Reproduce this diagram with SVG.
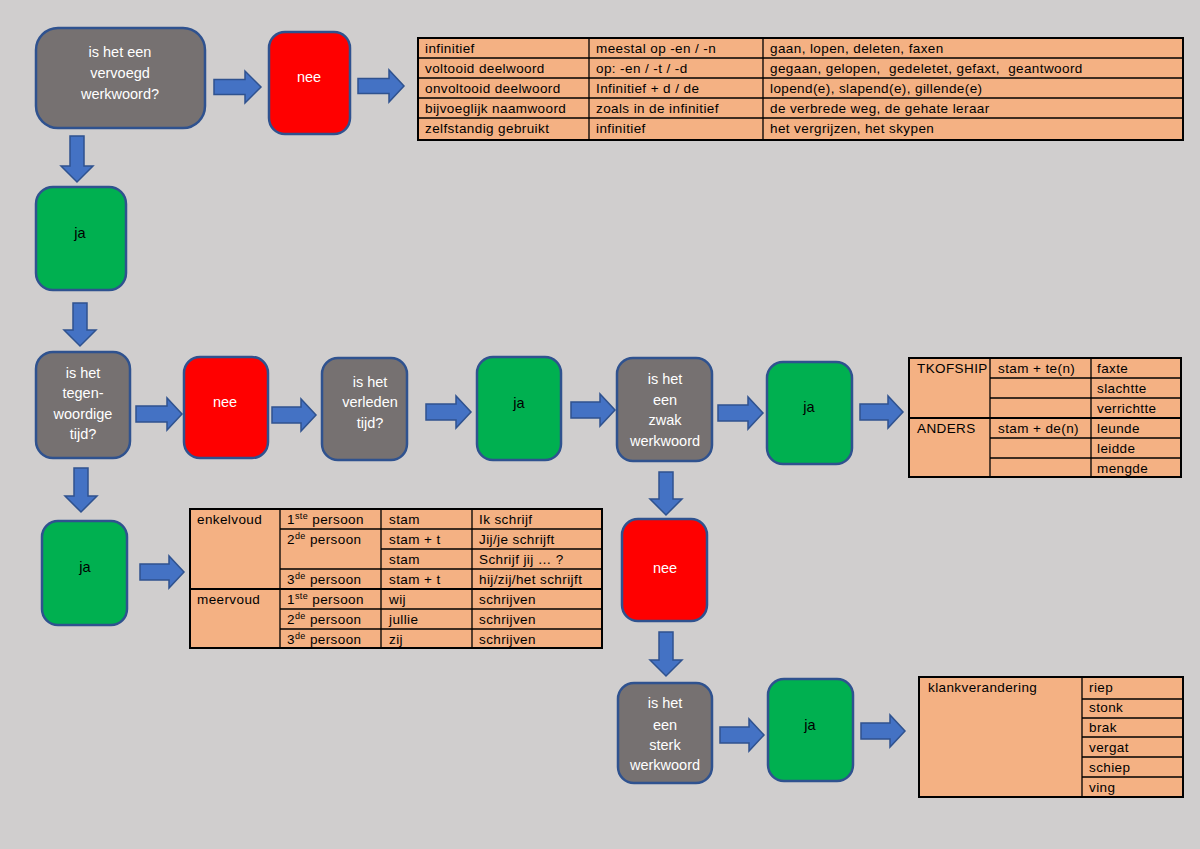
<svg xmlns="http://www.w3.org/2000/svg" width="1200" height="849" viewBox="0 0 1200 849">
<style>
.bg{fill:#D0CECE}
.node{stroke:#2F528F;stroke-width:2.5}
.gray{fill:#767171}
.red{fill:#FF0000}
.green{fill:#00B050}
.nt{font-family:"Liberation Sans",Arial,sans-serif;font-size:14.5px;text-anchor:middle;fill:#FFFFFF}
.nj{font-family:"Liberation Sans",Arial,sans-serif;font-size:14.5px;text-anchor:middle;fill:#000000}
.arr{fill:#4472C4;stroke:#2F528F;stroke-width:1.5}
.tb{fill:#F4B183;stroke:#000;stroke-width:2}
.ln{stroke:#000;stroke-width:1.3;fill:none}
.thk{stroke:#000;stroke-width:2;fill:none}
.tt{font-family:"Liberation Sans",Arial,sans-serif;font-size:13.5px;letter-spacing:0.4px;fill:#000;white-space:pre}
.sup{font-size:9px}
</style>
<rect class="bg" x="0" y="0" width="1200" height="849"/>

<g id="connectors">
<path class="arr" d="M214,79.5 H245 V71 L261,87 L245,103 V94.5 H214 Z"/>
<path class="arr" d="M358,78.5 H389 V70 L404,86 L389,102 V93.5 H358 Z"/>
<path class="arr" d="M70,136 H84 V166 H93 L77,182 L61,166 H70 Z"/>
<path class="arr" d="M73,303 H87 V330 H96 L80,346 L64,330 H73 Z"/>
<path class="arr" d="M74,468 H88 V496 H97 L81,512 L65,496 H74 Z"/>
<path class="arr" d="M659,472 H673 V499 H682 L666,515 L650,499 H659 Z"/>
<path class="arr" d="M659,632 H673 V660 H682 L666,676 L650,660 H659 Z"/>
<path class="arr" d="M136,406 H167 V398 L182,414 L167,430 V422 H136 Z"/>
<path class="arr" d="M272,407 H301 V399 L316,415 L301,431 V423 H272 Z"/>
<path class="arr" d="M426,404 H456 V396 L471,412 L456,428 V420 H426 Z"/>
<path class="arr" d="M571,402 H600 V394 L615,410 L600,426 V418 H571 Z"/>
<path class="arr" d="M718,405 H748 V397 L763,413 L748,429 V421 H718 Z"/>
<path class="arr" d="M860,404 H888 V396 L903,412 L888,428 V420 H860 Z"/>
<path class="arr" d="M140,564 H169 V556 L184,572 L169,588 V580 H140 Z"/>
<path class="arr" d="M720,727 H749 V719 L764,735 L749,751 V743 H720 Z"/>
<path class="arr" d="M861,723 H890 V715 L905,731 L890,747 V739 H861 Z"/>
</g>

<g id="n1">
<rect class="node gray" x="36" y="28" width="169" height="100" rx="22"/>
<text class="nt" x="120" y="57">is het een</text>
<text class="nt" x="120" y="78">vervoegd</text>
<text class="nt" x="120" y="99">werkwoord?</text>
</g>
<g id="n2">
<rect class="node red" x="269" y="32" width="81" height="102" rx="16"/>
<text class="nt" x="309" y="82">nee</text>
</g>
<g id="n3">
<rect class="node green" x="36" y="187" width="90" height="103" rx="17"/>
<text class="nj" x="80" y="238">ja</text>
</g>
<g id="n4">
<rect class="node gray" x="36" y="352" width="94" height="106" rx="17"/>
<text class="nt" x="83" y="378">is het</text>
<text class="nt" x="83" y="398">tegen-</text>
<text class="nt" x="83" y="419">woordige</text>
<text class="nt" x="83" y="439">tijd?</text>
</g>
<g id="n5">
<rect class="node red" x="184" y="357" width="84" height="101" rx="16"/>
<text class="nt" x="225" y="407">nee</text>
</g>
<g id="n6">
<rect class="node gray" x="322" y="358" width="85" height="102" rx="16"/>
<text class="nt" x="370" y="387">is het</text>
<text class="nt" x="370" y="407">verleden</text>
<text class="nt" x="370" y="428">tijd?</text>
</g>
<g id="n7">
<rect class="node green" x="477" y="357" width="84" height="103" rx="16"/>
<text class="nj" x="519" y="408">ja</text>
</g>
<g id="n8">
<rect class="node gray" x="617" y="358" width="95" height="103" rx="16"/>
<text class="nt" x="665" y="384">is het</text>
<text class="nt" x="665" y="405">een</text>
<text class="nt" x="665" y="425">zwak</text>
<text class="nt" x="665" y="446">werkwoord</text>
</g>
<g id="n9">
<rect class="node green" x="767" y="362" width="85" height="102" rx="16"/>
<text class="nj" x="809" y="412">ja</text>
</g>
<g id="n10">
<rect class="node green" x="42" y="521" width="85" height="104" rx="16"/>
<text class="nj" x="85" y="572">ja</text>
</g>
<g id="n11">
<rect class="node red" x="622" y="519" width="85" height="102" rx="16"/>
<text class="nt" x="665" y="573">nee</text>
</g>
<g id="n12">
<rect class="node gray" x="618" y="683" width="94" height="100" rx="16"/>
<text class="nt" x="665" y="708">is het</text>
<text class="nt" x="665" y="730">een</text>
<text class="nt" x="665" y="750">sterk</text>
<text class="nt" x="665" y="770">werkwoord</text>
</g>
<g id="n13">
<rect class="node green" x="768" y="679" width="85" height="102" rx="16"/>
<text class="nj" x="810" y="730">ja</text>
</g>

<g id="table-infinitief">
<rect class="tb" x="418" y="38" width="765" height="102"/>
<path class="ln" d="M418,58 H1183 M418,78 H1183 M418,98 H1183 M418,118 H1183 M589,38 V140 M763,38 V140"/>
<text class="tt" x="425" y="53">infinitief</text>
<text class="tt" x="596" y="53">meestal op -en / -n</text>
<text class="tt" x="770" y="53">gaan, lopen, deleten, faxen</text>
<text class="tt" x="425" y="73">voltooid deelwoord</text>
<text class="tt" x="596" y="73">op: -en / -t / -d</text>
<text class="tt" x="770" y="73">gegaan, gelopen,  gedeletet, gefaxt,  geantwoord</text>
<text class="tt" x="425" y="93">onvoltooid deelwoord</text>
<text class="tt" x="596" y="93">Infinitief + d / de</text>
<text class="tt" x="770" y="93">lopend(e), slapend(e), gillende(e)</text>
<text class="tt" x="425" y="113">bijvoeglijk naamwoord</text>
<text class="tt" x="596" y="113">zoals in de infinitief</text>
<text class="tt" x="770" y="113">de verbrede weg, de gehate leraar</text>
<text class="tt" x="425" y="133">zelfstandig gebruikt</text>
<text class="tt" x="596" y="133">infinitief</text>
<text class="tt" x="770" y="133">het vergrijzen, het skypen</text>
</g>

<g id="table-zwak">
<rect class="tb" x="909" y="358" width="272" height="119"/>
<path class="ln" d="M990,358 V477 M1091,358 V477 M990,378 H1181 M990,398 H1181 M990,438 H1181 M990,458 H1181"/>
<path class="thk" d="M909,418 H1181"/>
<text class="tt" x="917" y="373">TKOFSHIP</text>
<text class="tt" x="998" y="373">stam + te(n)</text>
<text class="tt" x="1097" y="373">faxte</text>
<text class="tt" x="1097" y="393">slachtte</text>
<text class="tt" x="1097" y="413">verrichtte</text>
<text class="tt" x="917" y="433">ANDERS</text>
<text class="tt" x="998" y="433">stam + de(n)</text>
<text class="tt" x="1097" y="433">leunde</text>
<text class="tt" x="1097" y="453">leidde</text>
<text class="tt" x="1097" y="473">mengde</text>
</g>

<g id="table-tegenwoordig">
<rect class="tb" x="190" y="509" width="412" height="139"/>
<path class="ln" d="M280,509 V648 M381,509 V648 M472,509 V648 M280,529 H602 M381,549 H602 M280,569 H602 M280,609 H602 M280,629 H602"/>
<path class="thk" d="M190,589 H602"/>
<text class="tt" x="197" y="524">enkelvoud</text>
<text class="tt" x="197" y="604">meervoud</text>
<text class="tt" x="287" y="524">1<tspan class="sup" dy="-5">ste</tspan><tspan dy="5"> persoon</tspan></text>
<text class="tt" x="287" y="544">2<tspan class="sup" dy="-5">de</tspan><tspan dy="5"> persoon</tspan></text>
<text class="tt" x="287" y="584">3<tspan class="sup" dy="-5">de</tspan><tspan dy="5"> persoon</tspan></text>
<text class="tt" x="287" y="604">1<tspan class="sup" dy="-5">ste</tspan><tspan dy="5"> persoon</tspan></text>
<text class="tt" x="287" y="624">2<tspan class="sup" dy="-5">de</tspan><tspan dy="5"> persoon</tspan></text>
<text class="tt" x="287" y="644">3<tspan class="sup" dy="-5">de</tspan><tspan dy="5"> persoon</tspan></text>
<text class="tt" x="389" y="524">stam</text>
<text class="tt" x="389" y="544">stam + t</text>
<text class="tt" x="389" y="564">stam</text>
<text class="tt" x="389" y="584">stam + t</text>
<text class="tt" x="389" y="604">wij</text>
<text class="tt" x="389" y="624">jullie</text>
<text class="tt" x="389" y="644">zij</text>
<text class="tt" x="479" y="524">Ik schrijf</text>
<text class="tt" x="479" y="544">Jij/je schrijft</text>
<text class="tt" x="479" y="564">Schrijf jij … ?</text>
<text class="tt" x="479" y="584">hij/zij/het schrijft</text>
<text class="tt" x="479" y="604">schrijven</text>
<text class="tt" x="479" y="624">schrijven</text>
<text class="tt" x="479" y="644">schrijven</text>
</g>

<g id="table-sterk">
<rect class="tb" x="919" y="677" width="264" height="120"/>
<path class="ln" d="M1082,677 V797 M1082,699 H1183 M1082,718 H1183 M1082,737 H1183 M1082,757 H1183 M1082,777 H1183"/>
<text class="tt" x="928" y="692">klankverandering</text>
<text class="tt" x="1089" y="692">riep</text>
<text class="tt" x="1089" y="712">stonk</text>
<text class="tt" x="1089" y="732">brak</text>
<text class="tt" x="1089" y="752">vergat</text>
<text class="tt" x="1089" y="772">schiep</text>
<text class="tt" x="1089" y="792">ving</text>
</g>
</svg>
